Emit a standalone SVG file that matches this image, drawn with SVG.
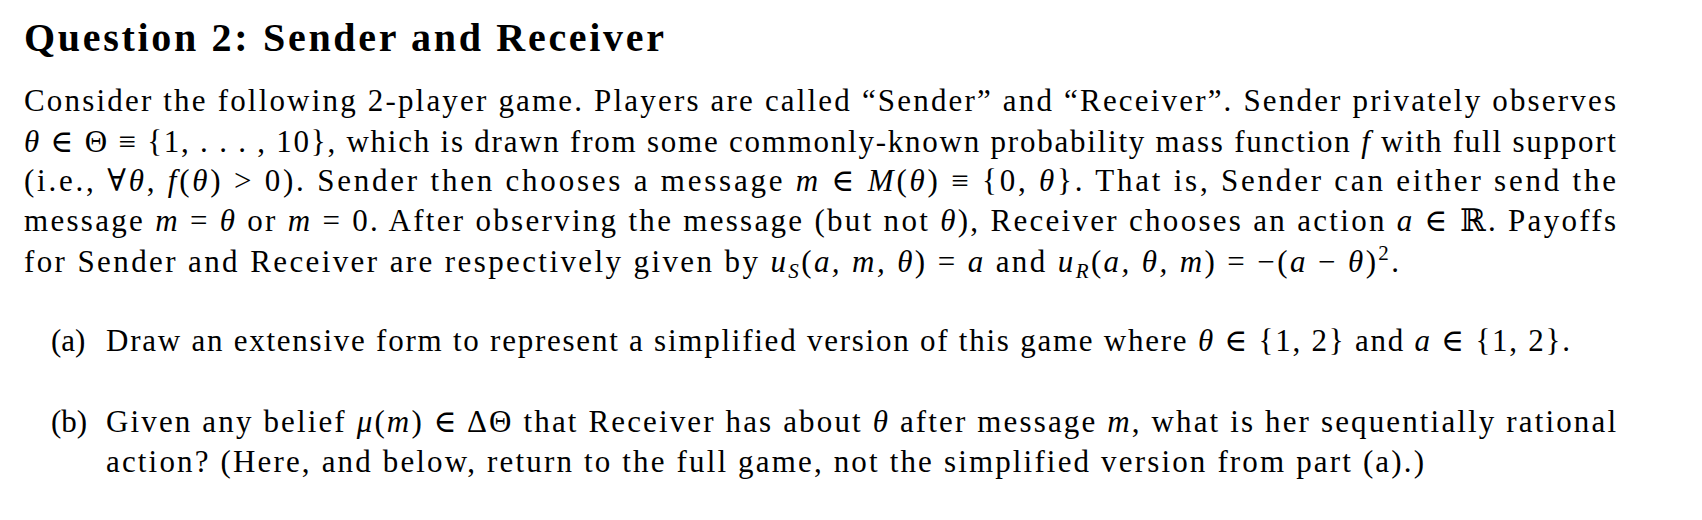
<svg xmlns="http://www.w3.org/2000/svg" width="1702" height="520" viewBox="0 0 1702 520">
<style>
text{font-family:"Liberation Serif","DejaVu Serif",serif;fill:#000;font-size:31px}
.h{font-weight:bold;font-size:40px}
.i{font-style:italic}
.s{font-size:21px;font-style:italic}
</style>
<rect width="1702" height="520" fill="#fff"/>
<g id="title"><text class="h" x="24" y="51" textLength="640" lengthAdjust="spacing">Question 2:  Sender and Receiver</text></g>
<g id="body">
<text x="24" y="111" textLength="1592" lengthAdjust="spacing">Consider the following 2-player game.  Players are called “Sender” and “Receiver”.  Sender privately observes</text>
<text x="24" y="152" textLength="1592" lengthAdjust="spacing"><tspan class="i">θ</tspan> ∈ Θ ≡ {1, . . . , 10}, which is drawn from some commonly-known probability mass function <tspan class="i">f</tspan> with full support</text>
<text x="24" y="191" textLength="1592" lengthAdjust="spacing">(i.e., ∀<tspan class="i">θ</tspan>,  <tspan class="i">f</tspan>(<tspan class="i">θ</tspan>) &gt; 0).  Sender then chooses a message <tspan class="i">m</tspan> ∈ <tspan class="i">M</tspan>(<tspan class="i">θ</tspan>) ≡ {0, <tspan class="i">θ</tspan>}.  That is, Sender can either send the</text>
<text x="24" y="231" textLength="1592" lengthAdjust="spacing">message <tspan class="i">m</tspan> = <tspan class="i">θ</tspan> or <tspan class="i">m</tspan> = 0.  After observing the message (but not <tspan class="i">θ</tspan>), Receiver chooses an action <tspan class="i">a</tspan> ∈ ℝ.  Payoffs</text>
<text x="24" y="272" textLength="1375" lengthAdjust="spacing">for Sender and Receiver are respectively given by <tspan class="i">u</tspan><tspan class="s" dy="6">S</tspan><tspan dy="-6">(</tspan><tspan class="i">a, m, θ</tspan>) = <tspan class="i">a</tspan> and <tspan class="i">u</tspan><tspan class="s" dy="6">R</tspan><tspan dy="-6">(</tspan><tspan class="i">a, θ, m</tspan>) = −(<tspan class="i">a</tspan> − <tspan class="i">θ</tspan>)<tspan font-size="21" dy="-12">2</tspan><tspan dy="12">.</tspan></text>
</g>
<g id="part-a">
<text x="51" y="351">(a)</text>
<text x="106" y="351" textLength="1464" lengthAdjust="spacing">Draw an extensive form to represent a simplified version of this game where <tspan class="i">θ</tspan> ∈ {1, 2} and <tspan class="i">a</tspan> ∈ {1, 2}.</text>
</g>
<g id="part-b">
<text x="51" y="432">(b)</text>
<text x="106" y="432" textLength="1510" lengthAdjust="spacing">Given any belief <tspan class="i">μ</tspan>(<tspan class="i">m</tspan>) ∈ ΔΘ that Receiver has about <tspan class="i">θ</tspan> after message <tspan class="i">m</tspan>, what is her sequentially rational</text>
<text x="106" y="472" textLength="1318" lengthAdjust="spacing">action?  (Here, and below, return to the full game, not the simplified version from part (a).)</text>
</g>
</svg>
